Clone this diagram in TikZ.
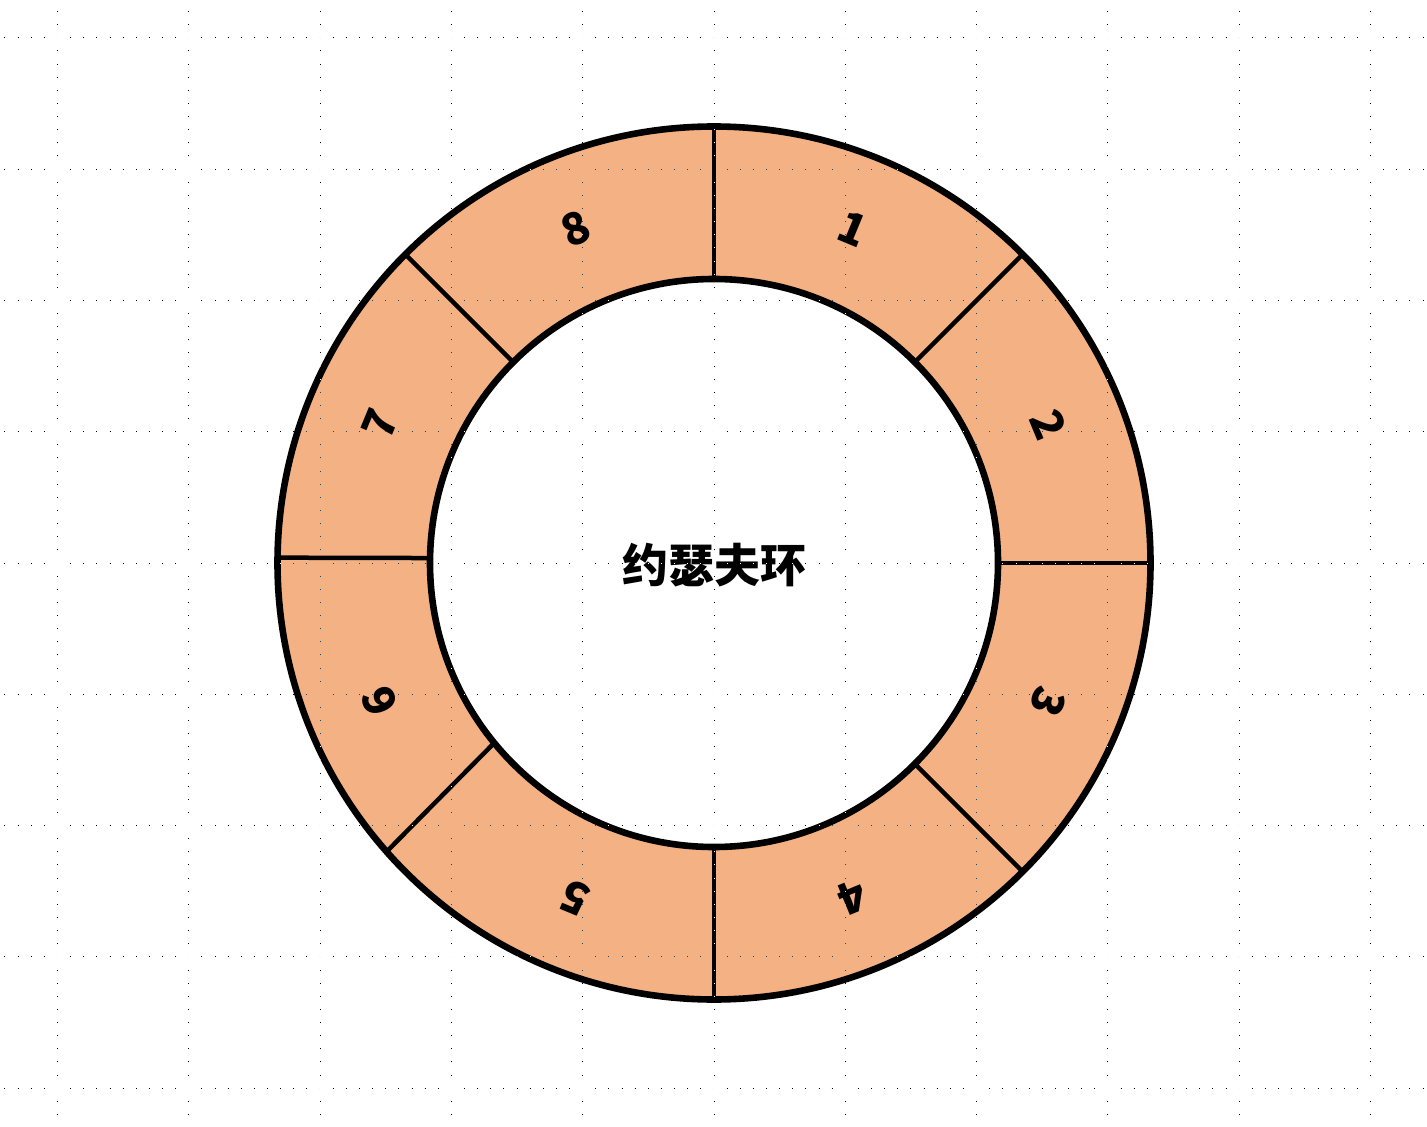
\documentclass[tikz,border=0pt]{standalone}
\usepackage{fontspec}
\newfontfamily\cjk{Noto Sans CJK SC}
\definecolor{ringorange}{HTML}{F4B183}

\begin{document}
\begin{tikzpicture}[x=0.5pt, y=0.5pt,
	ring/.style = {line width=3.3pt},
	cut/.style = {line width=2.25pt},
	num/.style = {font=\cjk\bfseries\fontsize{22}{22}\selectfont, inner sep=0pt},
	titletext/.style = {font=\cjk\bfseries\fontsize{23}{23}\selectfont, inner sep=0pt},
	griddots/.style = {white, line width=0.5pt, dash pattern=on 0.5pt off 6.065pt}]
	\useasboundingbox (0,0) rectangle (1427,1126);
	\fill[white] (0,0) rectangle (1427,1126);
	\begin{scope}[shift={(714,563)}]
		\fill[ringorange, even odd rule] (0,0) circle (436.5) (0,0) circle (284);
		\foreach \a/\b in {90/90, 45/45, 0/0, -45/-45, -90/-90, -140.7/-138.6, 179/179.3, 135/135}
			\draw[cut] (\a:284) -- (\b:436.5);
		\draw[ring] (0,0) circle (436.5);
		\draw[ring] (0,0) circle (284);
		\foreach \n in {1,...,8}
			\node[num, rotate={22.5-45*\n}] (n\n) at ({112.5-45*\n}:362) {\n};
		\node[titletext] (title) at (0,-2) {约瑟夫环};
		\begin{scope}[blend mode=difference]
			\foreach \k in {-5,...,5}
				\draw[griddots] (131.3*\k, -551.96) -- ++(0, 1103.92);
			\foreach \k in {-4,...,4}
				\draw[griddots] (-709.52, 131.3*\k) -- ++(1419.04, 0);
		\end{scope}
	\end{scope}
\end{tikzpicture}
\end{document}
